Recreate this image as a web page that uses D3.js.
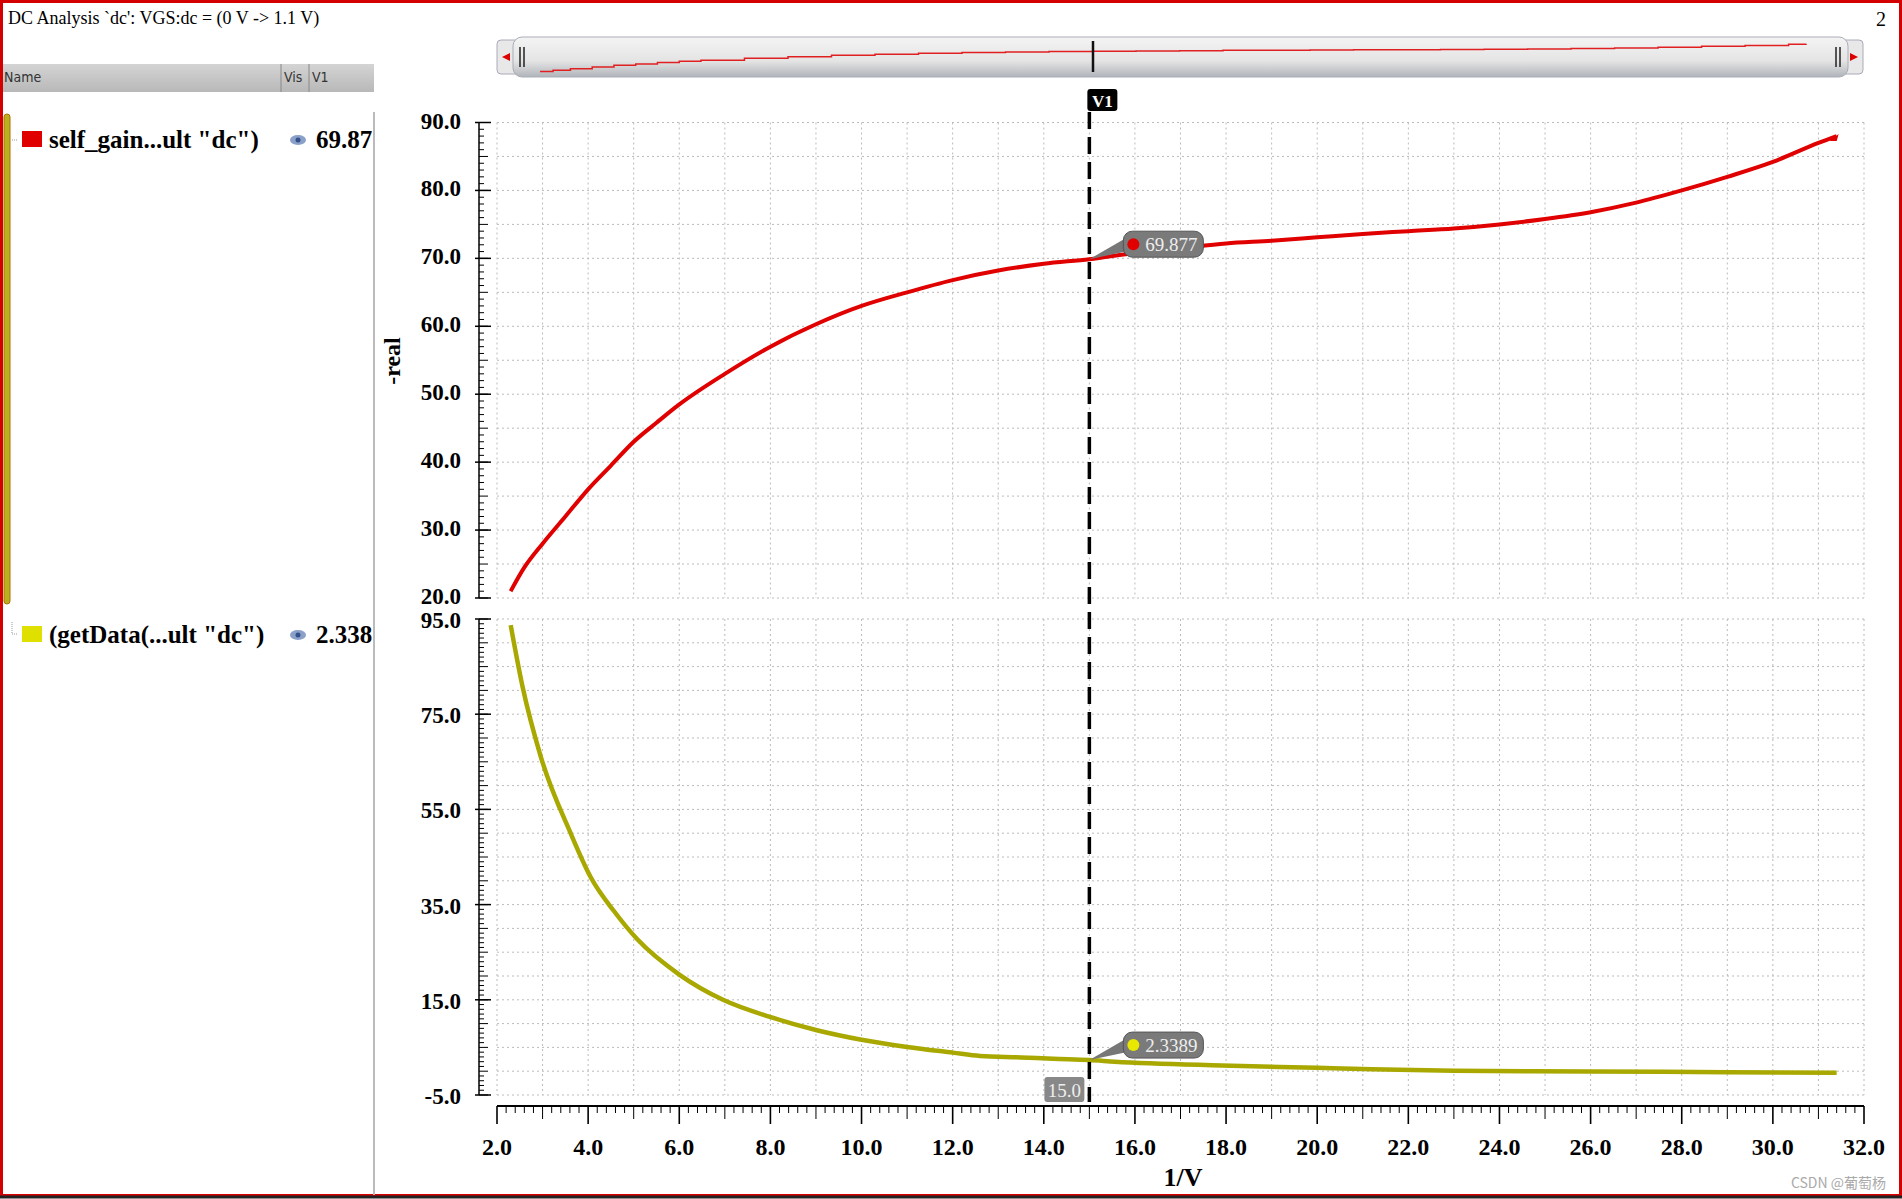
<!DOCTYPE html>
<html><head><meta charset="utf-8">
<script src="https://cdn.jsdelivr.net/npm/d3@7/dist/d3.min.js"></script>
<style>body{margin:0;background:#fff}svg{display:block}</style></head>
<body><svg id="c" width="1902" height="1199"></svg>
<script>
const gainX = [2.3,2.6,3,3.5,4,4.5,5,5.5,6,7,8,9,10,11,12,13,14,15,16,17,18,19,20,21,22,23,24,25,26,27,28,29,30,31,31.4];
const gainY = [21,24.5,28,32,36,39.5,43,45.8,48.5,53,57,60.3,63,65,66.8,68.2,69.2,69.877,70.8,71.5,72.2,72.6,73.1,73.6,74,74.4,75,75.8,76.8,78.2,80,82,84.2,87,88];
const dataX = [2.3,2.56,2.96,3.62,4.06,4.57,5.09,6,6.96,7.99,9.02,10,11,12,12.6,13.5,14.2,15,15.56,17.9,20,21.2,23,26,29,31.4];
const dataY = [93.7,80.8,66.1,49.9,40.7,33.6,27.6,20.3,15,11.4,8.6,6.6,5.1,3.9,3.2,2.9,2.6,2.3389,2.0,1.2,0.7,0.4,0.1,-0.05,-0.2,-0.3];
const xTicks = [2,4,6,8,10,12,14,16,18,20,22,24,26,28,30,32];
const topTicks = [20,30,40,50,60,70,80,90];
const botTicks = [-5,15,35,55,75,95];
const cursorX = 15;

const svg = d3.select("#c");
const serif = "'Liberation Serif', 'DejaVu Serif', serif";
const x = d3.scaleLinear().domain([2,32]).range([497,1864]);
const yT = d3.scaleLinear().domain([20,90]).range([598,122.5]);
const yB = d3.scaleLinear().domain([-5,95]).range([1095,619]);

svg.append("rect").attr("x",1.5).attr("y",1.5).attr("width",1899).attr("height",1194).attr("fill","none").attr("stroke","#d40000").attr("stroke-width",3);
svg.append("line").attr("x1",0).attr("x2",1902).attr("y1",1197).attr("y2",1197).attr("stroke","#222").attr("stroke-width",3);
svg.append("text").attr("x",8).attr("y",24).attr("font-family",serif).attr("font-size",18).text("DC Analysis `dc': VGS:dc =  (0 V -> 1.1 V)");
svg.append("text").attr("x",1886).attr("y",26).attr("text-anchor","end").attr("font-family",serif).attr("font-size",20).text("2");

const defs = svg.append("defs");
const gr = defs.append("linearGradient").attr("id","sg").attr("x1",0).attr("x2",0).attr("y1",0).attr("y2",1);
gr.append("stop").attr("offset","0").attr("stop-color","#f4f4f4");
gr.append("stop").attr("offset","0.6").attr("stop-color","#e4e4e4");
gr.append("stop").attr("offset","1").attr("stop-color","#b0b4ba");
svg.append("rect").attr("x",497).attr("y",40).attr("width",1366).attr("height",34).attr("rx",4).attr("fill","#e8e8e8").attr("stroke","#aab").attr("stroke-width",1);
svg.append("rect").attr("x",513).attr("y",37).attr("width",1335).attr("height",40).attr("rx",9).attr("fill","url(#sg)").attr("stroke","#a8adb5");
svg.append("path").attr("d","M502,57 l8,-4 v8z").attr("fill","#d00");
svg.append("path").attr("d","M1858,57 l-8,-4 v8z").attr("fill","#d00");
[520,524,1836,1840].forEach(v=>svg.append("line").attr("x1",v).attr("x2",v).attr("y1",47).attr("y2",67).attr("stroke","#222").attr("stroke-width",1.5));
const sx = d3.scaleLinear().domain([2.3,31.4]).range([540,1806]);
const sy = d3.scaleLinear().domain([20,90]).range([72,43]);
svg.append("path").datum(gainX.map((v,i)=>[v,gainY[i]])).attr("d",d3.line().x(d=>sx(d[0])).y(d=>sy(d[1])).curve(d3.curveStepAfter)).attr("fill","none").attr("stroke","#e02020").attr("stroke-width",1.5);
svg.append("line").attr("x1",1093).attr("x2",1093).attr("y1",41).attr("y2",72).attr("stroke","#111").attr("stroke-width",2.5);

const hg = defs.append("linearGradient").attr("id","hg").attr("x1",0).attr("x2",0).attr("y1",0).attr("y2",1);
hg.append("stop").attr("offset","0").attr("stop-color","#d4d4d4");
hg.append("stop").attr("offset","1").attr("stop-color","#b8b8b8");
svg.append("rect").attr("x",3).attr("y",64).attr("width",371).attr("height",28).attr("fill","url(#hg)");
[281,309].forEach(v=>svg.append("line").attr("x1",v).attr("x2",v).attr("y1",64).attr("y2",92).attr("stroke","#888"));
const ss = "'DejaVu Sans Condensed','DejaVu Sans',sans-serif";
svg.append("text").attr("x",4).attr("y",82).attr("font-family",ss).attr("font-size",14).attr("fill","#333").text("Name");
svg.append("text").attr("x",284).attr("y",82).attr("font-family",ss).attr("font-size",14).attr("fill","#333").text("Vis");
svg.append("text").attr("x",312).attr("y",82).attr("font-family",ss).attr("font-size",14).attr("fill","#333").text("V1");
svg.append("line").attr("x1",374).attr("x2",374).attr("y1",112).attr("y2",1195).attr("stroke","#bbb").attr("stroke-width",2);
svg.append("rect").attr("x",4).attr("y",114).attr("width",6).attr("height",490).attr("rx",3).attr("fill","#b8b020").attr("stroke","#b07000");
const clip = defs.append("clipPath").attr("id","lp"); clip.append("rect").attr("x",0).attr("y",0).attr("width",373).attr("height",1199);
const lp = svg.append("g").attr("clip-path","url(#lp)");
const rows = [{c:"#e00000",t:"self_gain...ult \"dc\")",v:"69.87",y:140},{c:"#e0e000",t:"(getData(...ult \"dc\")",v:"2.338",y:635}];
rows.forEach(r=>{
  lp.append("rect").attr("x",22).attr("y",r.y-9).attr("width",20).attr("height",16).attr("fill",r.c);
  lp.append("text").attr("x",49).attr("y",r.y+8).attr("font-family",serif).attr("font-weight","bold").attr("font-size",25).text(r.t);
  lp.append("ellipse").attr("cx",298).attr("cy",r.y).attr("rx",8).attr("ry",5).attr("fill","#8aa0c8");
  lp.append("circle").attr("cx",298).attr("cy",r.y).attr("r",2.5).attr("fill","#34508a");
  lp.append("text").attr("x",316).attr("y",r.y+8).attr("font-family",serif).attr("font-weight","bold").attr("font-size",25).text(r.v);
});
lp.append("line").attr("x1",12).attr("x2",18).attr("y1",140).attr("y2",140).attr("stroke","#999").attr("stroke-dasharray","1,1");
lp.append("path").attr("d","M12,622 V634 H18").attr("fill","none").attr("stroke","#999").attr("stroke-dasharray","1,1");

const grid = svg.append("g").attr("stroke","#bbb").attr("stroke-dasharray","2,3").attr("stroke-width",1);
d3.range(2,32.01,1).forEach(v=>{
  grid.append("line").attr("x1",x(v)).attr("x2",x(v)).attr("y1",yT(90)).attr("y2",yT(20));
  grid.append("line").attr("x1",x(v)).attr("x2",x(v)).attr("y1",yB(95)).attr("y2",yB(-5));
});
d3.range(20,90.01,5).forEach(v=>grid.append("line").attr("x1",x(2)).attr("x2",x(32)).attr("y1",yT(v)).attr("y2",yT(v)));
d3.range(-5,95.01,5).forEach(v=>grid.append("line").attr("x1",x(2)).attr("x2",x(32)).attr("y1",yB(v)).attr("y2",yB(v)));

function yaxis(scale, major, minorStep, lo, hi, dy){
  const g = svg.append("g").attr("transform","translate(479,0)");
  g.append("line").attr("x1",0).attr("x2",0).attr("y1",scale(hi)).attr("y2",scale(lo)).attr("stroke","#000").attr("stroke-width",1.5);
  d3.range(lo,hi+0.001,minorStep).forEach(v=>g.append("line").attr("x1",0).attr("x2",(Math.abs(v%5)<0.01)?9:5).attr("y1",scale(v)).attr("y2",scale(v)).attr("stroke","#000"));
  major.forEach(v=>{
    g.append("line").attr("x1",-4).attr("x2",12).attr("y1",scale(v)).attr("y2",scale(v)).attr("stroke","#000").attr("stroke-width",1.5);
    g.append("text").attr("x",-18).attr("y",scale(v)+dy).attr("text-anchor","end").attr("font-family",serif).attr("font-weight","bold").attr("font-size",23).text(v.toFixed(1));
  });
}
yaxis(yT, topTicks, 1, 20, 90, 6);
yaxis(yB, botTicks, 1, -5, 95, 9);
svg.append("text").attr("transform","translate(400,361) rotate(-90)").attr("text-anchor","middle").attr("font-family",serif).attr("font-weight","bold").attr("font-size",24).text("-real");

const xa = svg.append("g").attr("transform","translate(0,1106)");
xa.append("line").attr("x1",x(2)).attr("x2",x(32)).attr("stroke","#000").attr("stroke-width",2);
d3.range(2,32.001,0.2).forEach(v=>{
  const r = Math.round(v*5);
  const big = r%10===0, mid = r%5===0;
  xa.append("line").attr("x1",x(v)).attr("x2",x(v)).attr("y1",0).attr("y2",big?18:mid?13:7).attr("stroke","#000").attr("stroke-width",big?1.6:1);
});
xTicks.forEach(v=>xa.append("text").attr("x",x(v)).attr("y",49).attr("text-anchor","middle").attr("font-family",serif).attr("font-weight","bold").attr("font-size",24).text(v.toFixed(1)));
svg.append("text").attr("x",1183).attr("y",1186).attr("text-anchor","middle").attr("font-family",serif).attr("font-weight","bold").attr("font-size",26).text("1/V");

svg.append("path").datum(gainX.map((v,i)=>[v,gainY[i]])).attr("d",d3.line().x(d=>x(d[0])).y(d=>yT(d[1])).curve(d3.curveMonotoneX)).attr("fill","none").attr("stroke","#e00000").attr("stroke-width",4);
svg.append("path").attr("d",`M${x(31.4)-7},${yT(88)+5} l9,-7 l-2,7z`).attr("fill","#e00000");
svg.append("path").datum(dataX.map((v,i)=>[v,dataY[i]])).attr("d",d3.line().x(d=>x(d[0])).y(d=>yB(d[1])).curve(d3.curveMonotoneX)).attr("fill","none").attr("stroke","#a8a800").attr("stroke-width",4.5);

const cx = x(cursorX);
svg.append("line").attr("x1",cx).attr("x2",cx).attr("y1",112).attr("y2",1102).attr("stroke","#000").attr("stroke-width",3.5).attr("stroke-dasharray","17,8");
svg.append("rect").attr("x",cx-2).attr("y",89).attr("width",30).attr("height",22).attr("rx",3).attr("fill","#000");
svg.append("text").attr("x",cx+13).attr("y",107).attr("text-anchor","middle").attr("fill","#fff").attr("font-family",serif).attr("font-weight","bold").attr("font-size",17).text("V1");
function tip(py, col, txt){
  svg.append("path").attr("d",`M${cx},${py} L${cx+38},${py-22} L${cx+38},${py-8}z`).attr("fill","#777");
  svg.append("rect").attr("x",cx+34).attr("y",py-28).attr("width",80).attr("height",26).attr("rx",9).attr("fill","#7a7a7a").attr("stroke","#555");
  svg.append("circle").attr("cx",cx+44).attr("cy",py-15).attr("r",6).attr("fill",col);
  svg.append("text").attr("x",cx+56).attr("y",py-8).attr("fill","#eee").attr("font-family",serif).attr("font-size",19).text(txt);
}
tip(yT(69.877), "#e00000", "69.877");
tip(yB(2.3389), "#e8e800", "2.3389");
svg.append("rect").attr("x",cx-45).attr("y",1077).attr("width",40).attr("height",25).attr("rx",3).attr("fill","#888");
svg.append("text").attr("x",cx-25).attr("y",1097).attr("text-anchor","middle").attr("fill","#eee").attr("font-family",serif).attr("font-size",19).text("15.0");
svg.append("text").attr("x",1886).attr("y",1188).attr("text-anchor","end").attr("fill","#aaa").attr("font-family","'Noto Sans CJK SC',sans-serif").attr("font-size",14).text("CSDN @葡萄杨");
</script></body></html>
